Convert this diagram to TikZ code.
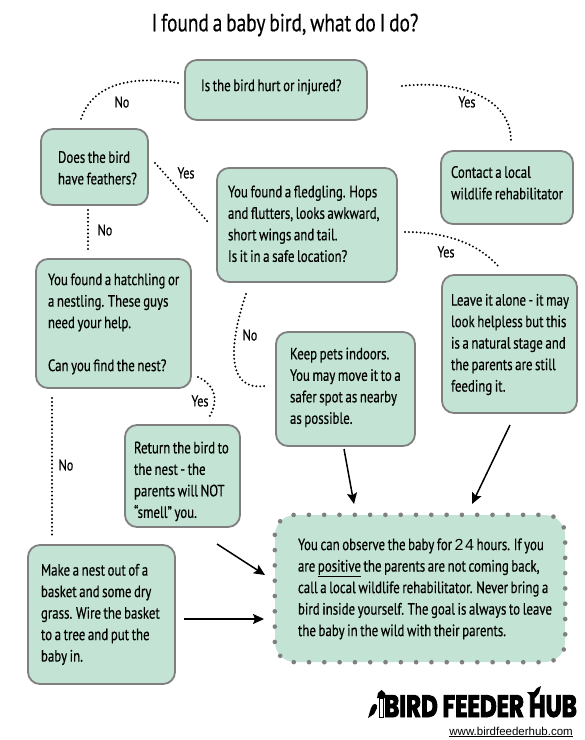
\documentclass[tikz,border=0pt]{standalone}
\usepackage{fontspec}
\setmainfont[FakeStretch=0.78,WordSpace=0.75,FakeBold=0.4]{PT Sans}
\newfontfamily\logofont[FakeStretch=0.74,BoldFeatures={FakeBold=3}]{Poppins}
\newfontfamily\urlfont{Liberation Sans}
\usetikzlibrary{arrows.meta}
\definecolor{boxgreen}{HTML}{C3E4D5}
\definecolor{boxedge}{HTML}{7F7F7F}
\tikzset{
  x=1pt,y=-1pt,
  every node/.style={font=\fontsize{16.5}{21.5}\selectfont,text=black},
  card/.style={draw=boxedge,fill=boxgreen,line width=1.8pt,rounded corners=12pt,inner sep=0pt},
  finalcard/.style={fill=boxgreen,rounded corners=20pt,inner sep=0pt},
  lab/.style={inner sep=0pt,font=\fontsize{15.5}{17}\selectfont},
  dots/.style={line width=2.2pt,line cap=round,dash pattern=on 0pt off 3.9pt,black},
  arrowline/.style={line width=1.5pt,black,-{Stealth[length=11pt,width=10pt,inset=2pt]}},
}
% style, name, x1,y1,x2,y2, text left x, text block centre y, text
\newcommand{\card}[9]{%
  \pgfmathsetlengthmacro{\cw}{#5-#3}%
  \pgfmathsetlengthmacro{\ch}{#6-#4}%
  \pgfmathsetlengthmacro{\cind}{#7-#3}%
  \pgfmathsetlengthmacro{\crise}{(#4+#6)/2-#8-6.1}%
  \node[#1,minimum width=\cw,minimum height=\ch] (#2) at ({(#3+#5)/2},{(#4+#6)/2})
    {\makebox[\cw][l]{\hspace*{\cind}\raisebox{\crise}[0pt][0pt]{\begin{tabular}[c]{@{}l@{}}#9\end{tabular}}}};}
\begin{document}
\begin{tikzpicture}
\useasboundingbox (0,0) rectangle (585,740);
\fill[white] (0,0) rectangle (585,740);
\node[inner sep=0pt,font=\fontsize{24.8}{28}\selectfont] (title) at (285,25) {I found a baby bird, what do I do?};

\card{card}{q1}{185}{60}{367}{120}{201}{85}{Is the bird hurt or injured?}
\card{card}{q2}{41}{129}{148}{205}{58}{167.5}{Does the bird\\have feathers?}
\card{card}{contact}{441}{151}{573}{224}{451}{182.5}{Contact a local\\wildlife rehabilitator}
\card{card}{fledge}{217}{168}{397}{282}{228}{223.5}{You found a fledgling. Hops\\and flutters, looks awkward,\\short wings and tail.\\Is it in a safe location?}
\card{card}{hatch}{36}{259}{191}{388}{48}{322}{You found a hatchling or\\a nestling. These guys\\need your help.\\[21.5pt]Can you find the nest?}
\card{card}{leave}{442}{275}{577}{413}{451}{342.5}{Leave it alone - it may\\look helpless but this\\is a natural stage and\\the parents are still\\feeding it.}
\card{card}{keep}{276}{332}{415}{446}{290}{385.5}{Keep pets indoors.\\You may move it to a\\safer spot as nearby\\as possible.}
\card{card}{ret}{125}{425}{240}{527}{134}{479.5}{Return the bird to\\the nest - the\\parents will NOT\\``smell'' you.}
\card{card}{nest}{28}{545}{175}{684}{41}{612.5}{Make a nest out of a\\basket and some dry\\grass. Wire the basket\\to a tree and put the\\baby in.}
\card{finalcard}{final}{275}{515}{565}{662}{298}{587}{You can observe the baby for {\urlfont\fontsize{16}{21.5}\selectfont 2\kern1.5pt 4} hours. If you\\are \underline{positive} the parents are not coming back,\\call a local wildlife rehabilitator. Never bring a\\bird inside yourself. The goal is always to leave\\the baby in the wild with their parents.}
\draw[boxedge,line width=4.6pt,line cap=round,dash pattern=on 0pt off 15.3pt,rounded corners=20pt] (final.north west) rectangle (final.south east);

% connectors
\coordinate (a1) at (178,83); \coordinate (a2) at (81,119);
\draw[dots] (a1) .. controls (130,75) and (92,85) .. (a2);
\coordinate (b1) at (402,86); \coordinate (b2) at (511,140);
\draw[dots] (b1) .. controls (455,80) and (510,95) .. (b2);
\coordinate (c1) at (155,163); \coordinate (c2) at (208,222);
\draw[dots] (c1) -- (c2);
\coordinate (d1) at (88,210); \coordinate (d2) at (88,252);
\draw[dots] (d1) -- (d2);
\coordinate (e1) at (405,232); \coordinate (e2) at (499,267);
\draw[dots] (e1) .. controls (440,232) and (475,240) .. (e2);
\coordinate (f1) at (246,294); \coordinate (f2) at (265,386);
\draw[dots] (f1) .. controls (232,335) and (222,392) .. (f2);
\coordinate (g1) at (198,377); \coordinate (g2) at (208,419);
\draw[dots] (g1) .. controls (215,385) and (220,400) .. (g2);
\coordinate (h1) at (52,398); \coordinate (h2) at (52,535);
\draw[dots] (h1) -- (h2);

\coordinate (k1) at (344,449); \coordinate (k2) at (354,504);
\draw[arrowline] (k1) -- (k2);
\coordinate (l1) at (510,425); \coordinate (l2) at (472,504);
\draw[arrowline] (l1) -- (l2);
\coordinate (m1) at (217,544); \coordinate (m2) at (265,575);
\draw[arrowline] (m1) -- (m2);
\coordinate (n1) at (184,619); \coordinate (n2) at (264,619);
\draw[arrowline] (n1) -- (n2);

% labels
\node[lab] (ln1) at (122,102) {No};
\node[lab] (ly1) at (467,102) {Yes};
\node[lab] (ly2) at (186,173) {Yes};
\node[lab] (ln2) at (105,230) {No};
\node[lab] (ly3) at (446,252) {Yes};
\node[lab] (ln3) at (250,335) {No};
\node[lab] (ly4) at (200,401) {Yes};
\node[lab] (ln4) at (66,465) {No};

% logo
\node[inner sep=0pt,text height=20pt,text depth=0pt,font=\logofont\bfseries\fontsize{31}{31}\selectfont,anchor=base west] (logo) at (384,717) {BIRD FEEDER HUB};
\node[inner sep=0pt,text height=8pt,text depth=2pt,font=\urlfont\fontsize{11.5}{13}\selectfont,anchor=base east] (url) at (573,735) {\underline{www.birdfeederhub.com}};
% feeder and perched birds of the logo
\fill[black] (368,718) -- (371,708) .. controls (373,702) and (378,703) .. (377,708) -- (374,714) -- cycle;
\draw[black,line width=.8pt,fill=white] (379,698) rectangle (383.5,717);
\fill[black] (377,698) -- (378,693) -- (381.5,690) -- (385,693) -- (386,698) -- cycle;
\fill[black] (527,692) -- (534,692) -- (537,688) -- (541,686) -- (539,693) -- (535,698) -- (532,697) -- cycle;
\end{tikzpicture}
\end{document}
